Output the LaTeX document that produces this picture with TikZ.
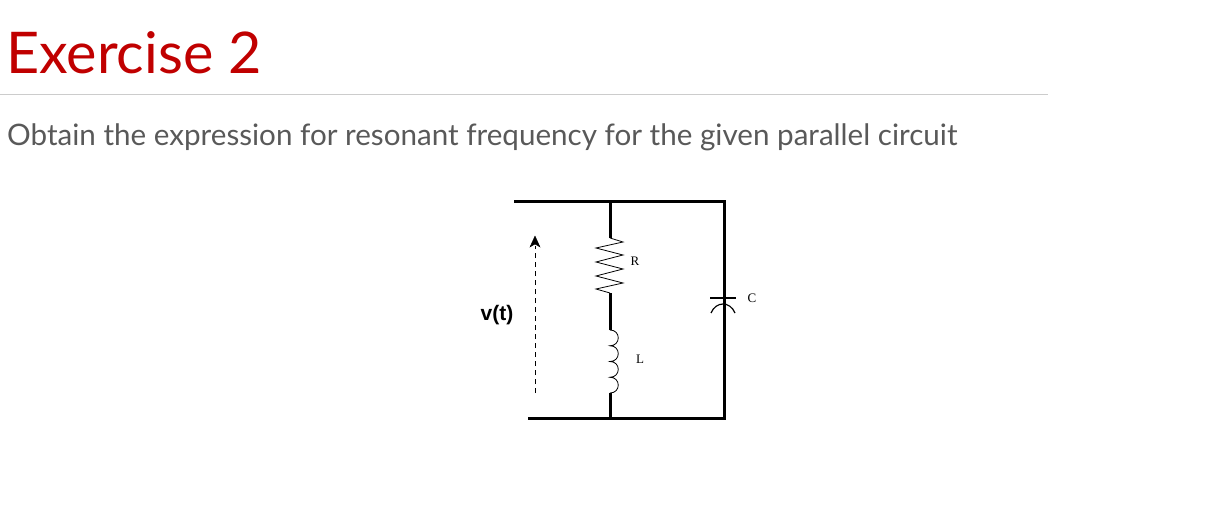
\documentclass[tikz,border=0pt]{standalone}
\usepackage{fontspec}
\setmainfont{Lato}
\newfontfamily\serifc{Liberation Serif}
\newfontfamily\boldsans{Liberation Sans}
\definecolor{titlered}{RGB}{192,0,0}
\definecolor{txtgray}{RGB}{89,89,89}
\begin{document}
\begin{tikzpicture}[x=1pt,y=-1pt,
  wire/.style={line width=3pt},
  thin/.style={line width=0.8pt},
  lbl/.style={font=\serifc\fontsize{13}{13}\selectfont}]
\useasboundingbox (0,0) rectangle (1229,532);
\node[anchor=west,text=titlered,font=\fontsize{57.5}{57.5}\selectfont,inner sep=0] (title) at (6,53) {Exercise 2};
\draw[color=black!20,line width=1pt] (0,95) -- (1048,95);
\node[anchor=west,text=txtgray,font=\fontsize{29.6}{29.6}\selectfont,inner sep=0] (sub) at (7,137) {Obtain the expression for resonant frequency for the given parallel circuit};
% wires
\coordinate (tl) at (514,201); \coordinate (tr) at (724,201);
\coordinate (bl) at (528,418); \coordinate (br) at (724,418);
\coordinate (tm) at (610,201); \coordinate (bm) at (610,418);
\draw[wire] (tl) -- (tr) -- (br) -- (bl);
\draw[wire] (tr) -- (724,298);
\draw[wire] (724,305) -- (br);
\draw[wire] (tm) -- (610,238);
\draw[wire] (610,293) -- (610,330);
\draw[wire] (610,393) -- (bm);
% resistor
\draw[thin] (610,238) -- (623,242) -- (596,248) -- (623,255) -- (596,262) -- (623,269) -- (596,276) -- (623,283) -- (596,289) -- (610,293);
% inductor
\draw[thin] (610,330) .. controls (621,330) and (621,345.75) .. (610,345.75)
  .. controls (621,345.75) and (621,361.5) .. (610,361.5)
  .. controls (621,361.5) and (621,377.25) .. (610,377.25)
  .. controls (621,377.25) and (621,393) .. (610,393);
% capacitor
\draw[line width=1.2pt] (710,298) -- (736,298);
\draw[line width=1.2pt] (711,313) .. controls (716,301) and (730,301) .. (735,313);
% arrow
\coordinate (a1) at (535,393); \coordinate (a2) at (535,236);
\draw[thin,dashed,dash pattern=on 5pt off 4pt] (a1) -- (535,246);
\draw[fill=black] (a2) -- (530,247) -- (535,244) -- (540,247) -- cycle;
\node[font=\boldsans\bfseries\fontsize{21}{21}\selectfont] (v) at (497,315) {v(t)};
\node[lbl] (R) at (635,261) {R};
\node[lbl] (L) at (640,359) {L};
\node[lbl] (C) at (752,298) {C};
\end{tikzpicture}
\end{document}
